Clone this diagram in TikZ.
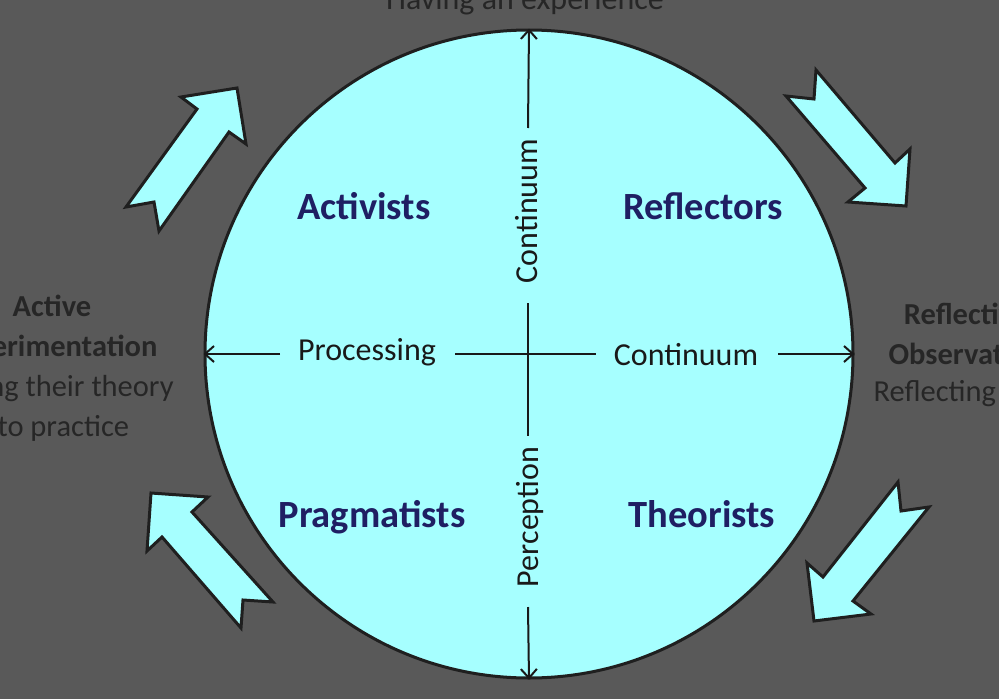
\documentclass[tikz,border=0pt]{standalone}
\usepackage{fontspec}
\setmainfont{Carlito}
\usepackage{xcolor}
\usetikzlibrary{arrows.meta, positioning}
\definecolor{slate}{HTML}{595959}
\definecolor{aqua}{HTML}{A6FFFF}
\definecolor{navy}{RGB}{31,31,99}
\definecolor{ink}{HTML}{262626}

\begin{document}
\begin{tikzpicture}[x=1pt, y=1pt, >={Straight Barb[length=9pt, width=16pt]}]

		% Define styles
		\tikzstyle{quadrant} = [font=\fontsize{38.5}{42}\selectfont\bfseries, text=navy, anchor=base]
		\tikzstyle{axislabel} = [font=\fontsize{32}{36}\selectfont, text=black!90, anchor=base]
		\tikzstyle{stage} = [font=\fontsize{30.5}{40}\selectfont, text=ink, align=center, anchor=base]
		\tikzstyle{axis} = [line width=2pt, draw=black!90]
		\tikzstyle{bigarrow} = [line width=3pt, draw=black!88, fill=aqua, line join=miter]

		% Canvas
		\clip (0,0) rectangle (999,-699);
		\fill[slate] (0,0) rectangle (999,-699);

		% Nodes
		\node[circle, draw=black!88, line width=3pt, fill=aqua, minimum size=648pt, inner sep=0pt] (disc) at (529,-354) {};
		\node[quadrant] (activists) at (364,-219) {Activists};
		\node[quadrant] (reflectors) at (703,-219) {Reflectors};
		\node[quadrant] (pragmatists) at (372,-527) {Pragmatists};
		\node[quadrant] (theorists) at (702,-527) {Theorists};

		\node[axislabel, rotate=90] (contup) at (537,-211) {Continuum};
		\node[axislabel, rotate=90] (percep) at (538,-517) {Perception};
		\node[axislabel] (process) at (367,-360) {Processing};
		\node[axislabel] (contright) at (686,-365) {Continuum};

		% Gap ends of the axes
		\coordinate (vtop) at (528,-128);
		\coordinate (vmid1) at (528,-303);
		\coordinate (vmid2) at (528,-436);
		\coordinate (vbot) at (528,-607);
		\coordinate (hleft) at (280,-354);
		\coordinate (hmid1) at (455,-354);
		\coordinate (hmid2) at (596,-354);
		\coordinate (hright) at (778,-354);

		% Arrows
		\draw[axis, ->] (vtop) -- (disc.north);
		\draw[axis] (vmid1) -- (vmid2);
		\draw[axis, ->] (vbot) -- (disc.south);
		\draw[axis, ->] (hleft) -- (disc.west);
		\draw[axis] (hmid1) -- (hmid2);
		\draw[axis, ->] (hright) -- (disc.east);

		\draw[bigarrow] (126,-207) -- (197,-109) -- (181,-97) -- (237,-88) -- (246,-144) -- (229,-132) -- (159,-231) -- (154,-202) -- cycle;
		\draw[bigarrow] (786,-96) -- (814,-99) -- (816,-70) -- (895,-163) -- (910,-149) -- (906,-206) -- (848,-202) -- (865,-188) -- cycle;
		\draw[bigarrow] (898,-482) -- (901,-511) -- (929,-507) -- (853,-601) -- (871,-614) -- (814,-621) -- (807,-563) -- (823,-577) -- cycle;
		\draw[bigarrow] (151,-493) -- (208,-497) -- (192,-512) -- (273,-602) -- (243,-600) -- (241,-628) -- (162,-537) -- (147,-551) -- cycle;

		% Labels
		\node[stage, font=\fontsize{32}{40}\selectfont] (having) at (525,-9) {Having an experience};
		\node[stage] (doing) at (52,-436) {\textbf{Active}\\\textbf{Experimentation}\\Putting their theory\\into practice};
		\node[stage] (watching) at (966,-364) {\textbf{Reflective}\\\textbf{Observation}};
		\node[stage, anchor=base west] (watchtext) at (870,-401) {Reflecting};

	\end{tikzpicture}
\end{document}
